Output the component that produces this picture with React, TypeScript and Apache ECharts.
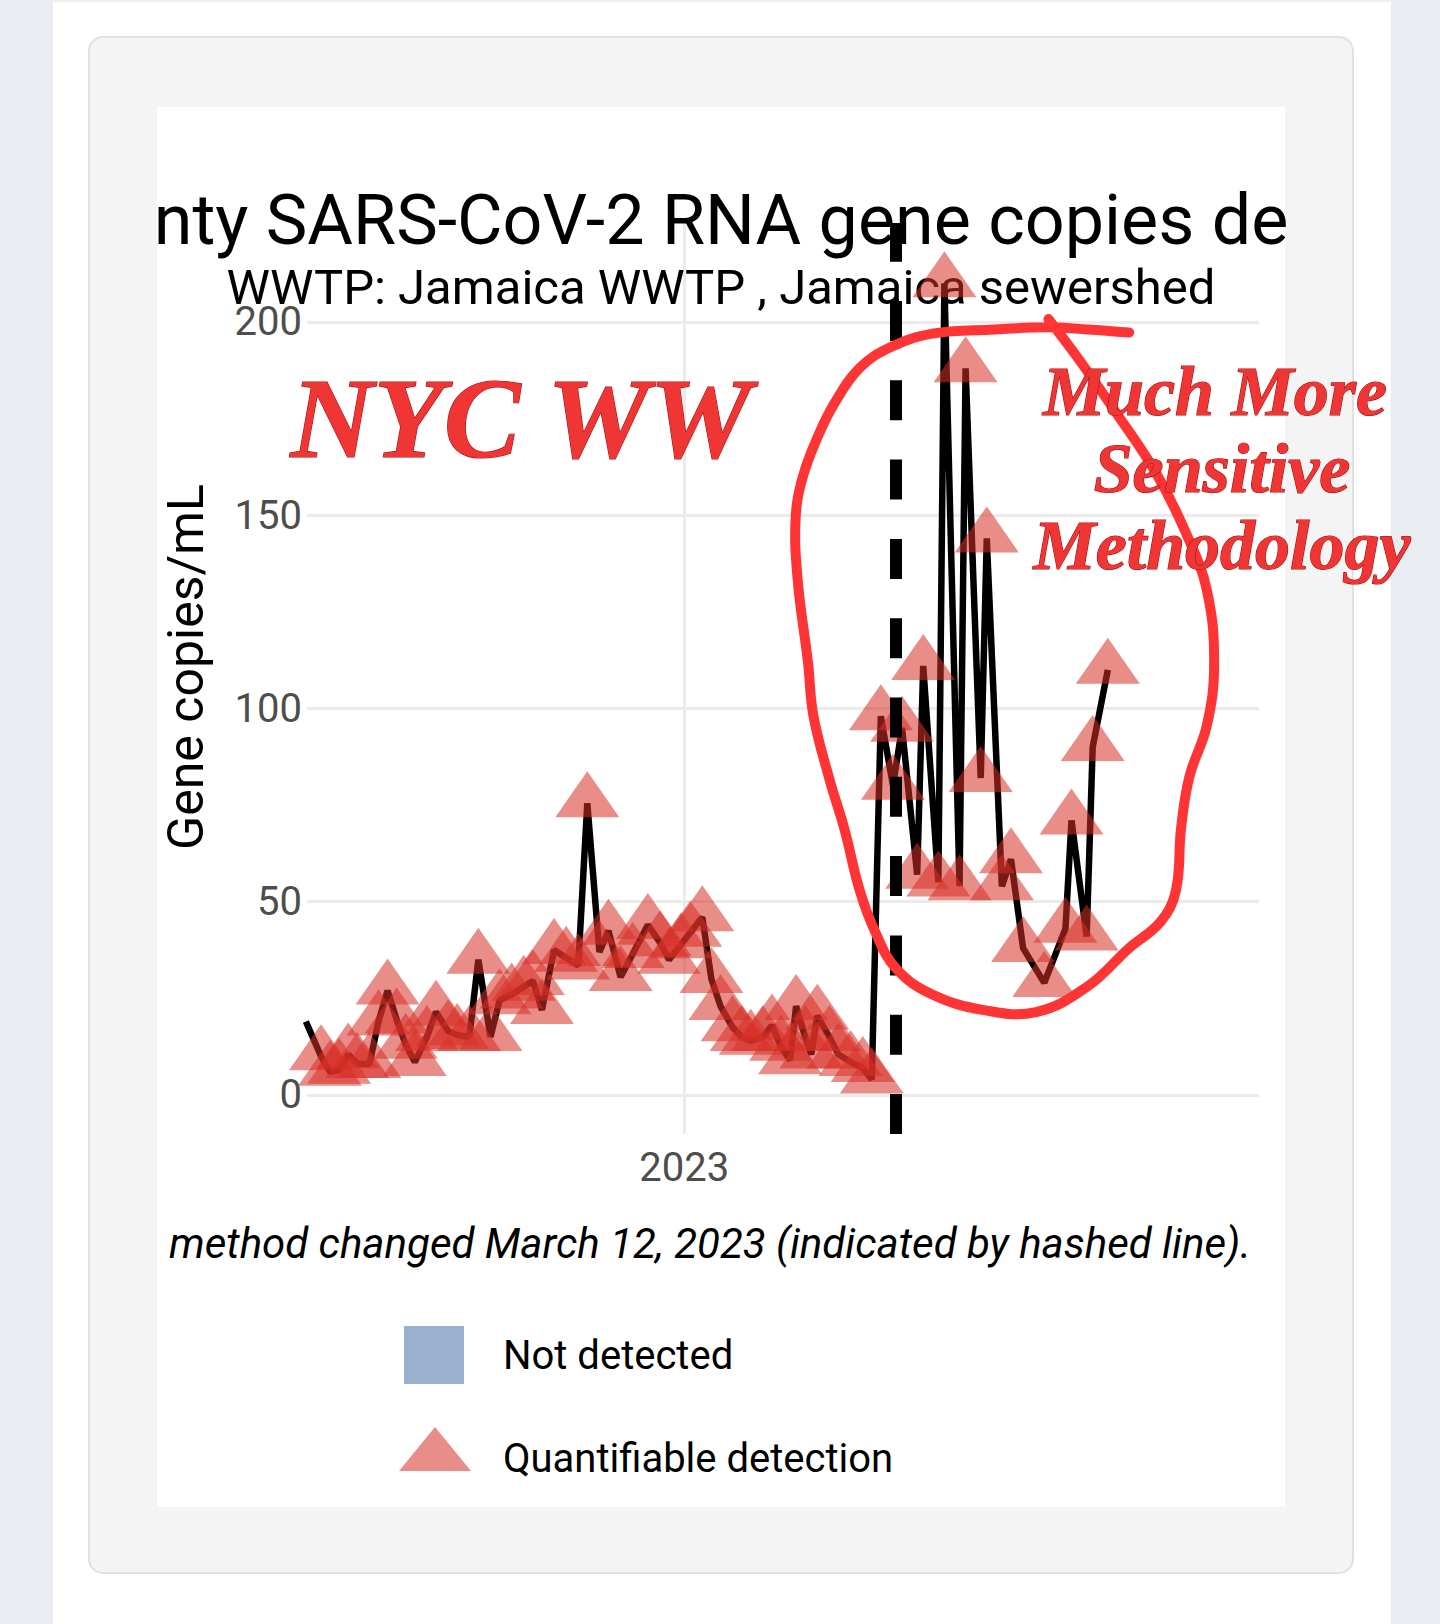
import React, { useEffect, useRef } from "react";
import * as echarts from "echarts";

// ---- data ----
const sampleDates = [
  "2022-08-29", "2022-09-03", "2022-09-06", "2022-09-09", "2022-09-12", "2022-09-15",
  "2022-09-19", "2022-09-22", "2022-09-25", "2022-09-28", "2022-10-01", "2022-10-04",
  "2022-10-08", "2022-10-11", "2022-10-15", "2022-10-18", "2022-10-22", "2022-10-25",
  "2022-10-29", "2022-11-01", "2022-11-05", "2022-11-09", "2022-11-12", "2022-11-15",
  "2022-11-19", "2022-11-23", "2022-11-27", "2022-11-30", "2022-12-04", "2022-12-07",
  "2022-12-11", "2022-12-15", "2022-12-20", "2022-12-24", "2022-12-27", "2022-12-31",
  "2023-01-03", "2023-01-07", "2023-01-10", "2023-01-13", "2023-01-17", "2023-01-20",
  "2023-01-23", "2023-01-27", "2023-01-30", "2023-02-02", "2023-02-05", "2023-02-07",
  "2023-02-10", "2023-02-12", "2023-02-14", "2023-02-18", "2023-02-21", "2023-02-25",
  "2023-03-01", "2023-03-04",
  "2023-03-07", "2023-03-11", "2023-03-14", "2023-03-19", "2023-03-21", "2023-03-26",
  "2023-03-28", "2023-04-02", "2023-04-04", "2023-04-09", "2023-04-11", "2023-04-16",
  "2023-04-19", "2023-04-23", "2023-04-30", "2023-05-07", "2023-05-09", "2023-05-14",
  "2023-05-16", "2023-05-21",
];
const geneCopies = [
  19, 10, 6, 6.5, 10.5, 8,
  8, 19, 27, 19.5, 13, 8.5,
  15, 21.5, 16.5, 15.5, 15, 35,
  15, 24.5, 26, 28, 29.5, 22,
  37.5, 35.5, 33.5, 75.5, 37, 42.5,
  30.5, 36.5, 44, 39.5, 35, 39,
  42, 46, 30, 23, 17.5, 15,
  14, 15, 18, 12.5, 9, 23,
  15, 10.5, 20.5, 15, 10.5, 8.5,
  7, 4,
  98, 80, 95, 57, 111, 55,
  210, 54, 188, 82, 144, 54,
  61, 38, 29, 43, 71, 41,
  90, 110,
];
const methodChangeDate = "2023-03-12";
const yTickValues = [0, 50, 100, 150, 200];
const xTickDates = ["2023-01-01"];
const yMin = -10.1;
const yMax = 225.6;
const xMinDate = "2022-08-29T09:00:00Z";
const xMaxDate = "2023-07-09T23:00:00Z";

const titleText = "nty SARS-CoV-2 RNA gene copies de";
const subtitleText = "WWTP: Jamaica WWTP , Jamaica sewershed";
const captionText = "method changed March 12, 2023 (indicated by hashed line).";
const yAxisTitle = "Gene copies/mL";

const toTs = (d: string) => {
  if (d.length > 10) return Date.parse(d);
  const [y, m, dd] = d.split("-").map(Number);
  return Date.UTC(y, m - 1, dd);
};

// hand-drawn loop annotation (page decoration, in px of the 1390-wide view)
const loopPts = [
  [1090, 321], [1050, 318], [1010, 316], [960, 318], [900, 322], [860, 335], [830, 355],
  [805, 390], [790, 420], [775, 460], [768, 500], [770, 560], [780, 640], [785, 690],
  [800, 750], [815, 800], [830, 860], [845, 900], [865, 935], [900, 960], [950, 975],
  [1000, 977], [1050, 952], [1090, 915], [1120, 890], [1135, 860], [1140, 800],
  [1148, 750], [1165, 700], [1172, 640], [1165, 570], [1145, 515], [1115, 455],
  [1075, 395], [1040, 345], [1012, 308],
];
const S = 1440 / 1390;

const FONT = "Roboto";
const SERIF = "Liberation Serif";
// legend triangle with empty space below so the label sits a little lower than the icon
const legendTriangle = "path://M36,0L72,44L0,44Z M36,62L36.01,62";

export default function App() {
  const ref = useRef<HTMLDivElement>(null);
  useEffect(() => {
    if (!ref.current) return;
    const chart = echarts.init(ref.current, null, { renderer: "svg", width: 1440, height: 1624 });
    const data = sampleDates.map((d, i) => [toTs(d), geneCopies[i]]);
    const annoText = (text: string, x: number, y: number, size: number) => ({
      type: "text",
      z: 100,
      style: {
        text,
        x,
        y,
        fill: "#f03535",
        fontSize: size,
        fontFamily: SERIF,
        fontWeight: "bold",
        fontStyle: "italic",
        align: "center",
        verticalAlign: "middle",
        stroke: "#a51212",
        lineWidth: 1.2,
        shadowColor: "rgba(60,0,0,0.8)",
        shadowOffsetX: 3,
        shadowOffsetY: 3,
        shadowBlur: 2,
      },
    });
    const option: any = {
      animation: false,
      backgroundColor: "#e9edf2",
      textStyle: { fontFamily: FONT },
      grid: { left: 307, right: 181, top: 223, bottom: 490, containLabel: false },
      xAxis: {
        type: "value",
        min: toTs(xMinDate),
        max: toTs(xMaxDate),
        axisLine: { show: false },
        axisTick: { show: false, customValues: xTickDates.map(toTs) },
        axisLabel: {
          customValues: xTickDates.map(toTs),
          formatter: (v: number) => String(new Date(v).getUTCFullYear()),
          fontSize: 40,
          color: "#4d4d4d",
          fontFamily: FONT,
          margin: 13,
        },
        splitLine: { show: true, lineStyle: { color: "#ebebeb", width: 3 } },
      },
      yAxis: {
        type: "value",
        min: yMin,
        max: yMax,
        axisLine: { show: false },
        axisTick: { show: false, customValues: yTickValues },
        axisLabel: {
          customValues: yTickValues,
          fontSize: 40,
          color: "#4d4d4d",
          fontFamily: FONT,
          margin: 5,
        },
        splitLine: { show: true, lineStyle: { color: "#ebebeb", width: 3 } },
      },
      legend: [
        {
          data: [{ name: "Not detected", icon: "rect" }],
          left: 399,
          top: 1321,
          itemWidth: 60,
          itemHeight: 58,
          selectedMode: false,
          textStyle: { fontSize: 40, color: "#000", fontFamily: FONT, padding: [0, 0, 0, 34] },
        },
        {
          data: [{ name: "Quantifiable detection", icon: legendTriangle }],
          left: 394,
          top: 1422,
          itemWidth: 72,
          itemHeight: 62,
          selectedMode: false,
          textStyle: { fontSize: 40, color: "#000", fontFamily: FONT, padding: [0, 0, 0, 27] },
        },
      ],
      series: [
        {
          name: "Not detected",
          type: "scatter",
          data: [],
          symbol: "rect",
          itemStyle: { color: "#7f9dc0" },
        },
        {
          name: "Quantifiable detection",
          type: "line",
          data,
          z: 3,
          clip: true,
          showAllSymbol: true,
          symbol: "triangle",
          symbolSize: [64, 46],
          symbolOffset: [0, -9],
          lineStyle: { color: "#000", width: 6.5 },
          itemStyle: { color: "rgba(215,48,39,0.55)" },
          emphasis: { disabled: true },
        },
        {
          name: "method change",
          type: "line",
          data: [],
          z: 10,
          markLine: {
            silent: true,
            symbol: ["none", "none"],
            label: { show: false },
            lineStyle: { color: "#000", width: 12, type: [40, 39.3] },
            data: [{ xAxis: toTs(methodChangeDate) }],
          },
        },
      ],
      graphic: [
        { type: "rect", z: -100, shape: { x: 53, y: 0, width: 1338, height: 1624 }, style: { fill: "#ffffff" } },
        { type: "rect", z: -100, shape: { x: 53, y: 0, width: 1338, height: 2 }, style: { fill: "#efefef" } },
        {
          type: "rect",
          z: -99,
          shape: { x: 89, y: 37, width: 1264, height: 1536, r: 14 },
          style: { fill: "#f4f4f4", stroke: "#e1e1e1", lineWidth: 2 },
        },
        { type: "rect", z: -98, shape: { x: 157, y: 107, width: 1128, height: 1400 }, style: { fill: "#ffffff" } },
        {
          type: "text",
          z: 1,
          style: {
            text: titleText, x: 721, y: 220, fill: "#000", fontSize: 70, fontFamily: FONT,
            align: "center", verticalAlign: "middle",
          },
        },
        {
          type: "text",
          z: 1,
          style: {
            text: subtitleText, x: 721, y: 287, fill: "#000", fontSize: 49, fontFamily: FONT,
            align: "center", verticalAlign: "middle",
          },
        },
        {
          type: "text",
          z: 1,
          x: 186,
          y: 667,
          rotation: Math.PI / 2,
          style: {
            text: yAxisTitle, x: 0, y: 0, fill: "#000", fontSize: 50, fontFamily: FONT,
            align: "center", verticalAlign: "middle",
          },
        },
        {
          type: "text",
          z: 1,
          style: {
            text: captionText, x: 169, y: 1243, fill: "#000", fontSize: 42, fontFamily: FONT,
            fontStyle: "italic", align: "left", verticalAlign: "middle",
          },
        },
        {
          type: "polyline",
          z: 100,
          shape: { points: loopPts.map(([x, y]) => [x * S, y * S]), smooth: 0.4 },
          style: { stroke: "#ff3535", lineWidth: 10, fill: null, lineCap: "round", lineJoin: "round" },
        },
        annoText("NYC WW", 521, 418, 115),
        annoText("Much More", 1215, 391, 70),
        annoText("Sensitive", 1222, 468, 70),
        annoText("Methodology", 1222, 545, 70),
      ],
    };
    chart.setOption(option);
    return () => chart.dispose();
  }, []);
  return (
    <div
      ref={ref}
      style={{ position: "absolute", left: 0, top: 0, width: 1440, height: 1624 }}
    />
  );
}
